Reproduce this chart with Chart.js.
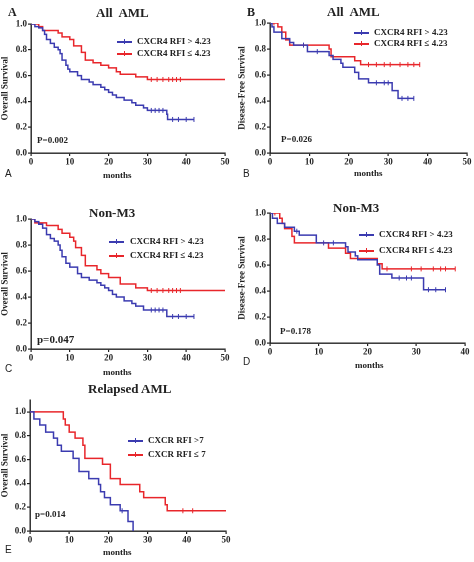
<!DOCTYPE html>
<html><head><meta charset="utf-8">
<script src="https://cdn.jsdelivr.net/npm/chart.js@4/dist/chart.umd.min.js"></script>
<style>
body{margin:0;background:#fff;width:474px;height:562px;position:relative;overflow:hidden;font-family:"Liberation Serif","Times New Roman",serif;}
canvas{position:absolute;}
.t{position:absolute;font-weight:bold;white-space:nowrap;color:#222;}
.lg{position:absolute;height:2px;width:15px;}
.lg:after{content:"";position:absolute;left:7px;top:-2px;width:1px;height:5px;background:inherit;}
.let{position:absolute;font-family:"Liberation Sans",Arial,sans-serif;font-size:10px;color:#222;}
</style></head><body>
<canvas id="cA"></canvas><canvas id="cB"></canvas><canvas id="cC"></canvas><canvas id="cD"></canvas><canvas id="cE"></canvas>
<div class="let" style="left:8px;top:5px;font-weight:bold;font-family:'Liberation Serif',serif;font-size:12px">A</div>
<div class="let" style="left:247px;top:5px;font-weight:bold;font-family:'Liberation Serif',serif;font-size:12px">B</div>
<div class="let" style="left:5px;top:168px">A</div>
<div class="let" style="left:243px;top:168px">B</div>
<div class="let" style="left:5px;top:363px">C</div>
<div class="let" style="left:243px;top:356px">D</div>
<div class="let" style="left:5px;top:544px">E</div>
<div class="t" style="left:96px;top:5px;font-size:13px">All&nbsp; AML</div>
<div class="t" style="left:327px;top:4px;font-size:13px">All&nbsp; AML</div>
<div class="t" style="left:89px;top:205px;font-size:13px">Non-M3</div>
<div class="t" style="left:333px;top:200px;font-size:13px">Non-M3</div>
<div class="t" style="left:88px;top:381px;font-size:13px">Relapsed AML</div>
<div class="t" style="left:103px;top:170px;font-size:9px">months</div>
<div class="t" style="left:354px;top:168px;font-size:9px">months</div>
<div class="t" style="left:103px;top:367px;font-size:9px">months</div>
<div class="t" style="left:355px;top:360px;font-size:9px">months</div>
<div class="t" style="left:103px;top:547px;font-size:9px">months</div>
<div class="t" style="left:37px;top:135px;font-size:9px">P=0.002</div>
<div class="t" style="left:281px;top:134px;font-size:9px">P=0.026</div>
<div class="t" style="left:37px;top:333px;font-size:11px">p=0.047</div>
<div class="t" style="left:280px;top:326px;font-size:9px">P=0.178</div>
<div class="t" style="left:35px;top:509px;font-size:9px">p=0.014</div>
<div class="lg" style="left:117px;top:41px;background:#3b3bb0"></div><div class="t" style="left:137px;top:36px;font-size:9px">CXCR4 RFI &gt; 4.23</div>
<div class="lg" style="left:117px;top:53px;background:#e8262b"></div><div class="t" style="left:137px;top:48px;font-size:9px">CXCR4 RFI ≤ 4.23</div>
<div class="lg" style="left:354px;top:32px;background:#3b3bb0"></div><div class="t" style="left:374px;top:27px;font-size:9px">CXCR4 RFI &gt; 4.23</div>
<div class="lg" style="left:354px;top:43px;background:#e8262b"></div><div class="t" style="left:374px;top:38px;font-size:9px">CXCR4 RFI ≤ 4.23</div>
<div class="lg" style="left:109px;top:241px;background:#3b3bb0"></div><div class="t" style="left:130px;top:236px;font-size:9px">CXCR4 RFI &gt; 4.23</div>
<div class="lg" style="left:109px;top:255px;background:#e8262b"></div><div class="t" style="left:130px;top:250px;font-size:9px">CXCR4 RFI ≤ 4.23</div>
<div class="lg" style="left:359px;top:234px;background:#3b3bb0"></div><div class="t" style="left:379px;top:229px;font-size:9px">CXCR4 RFI &gt; 4.23</div>
<div class="lg" style="left:359px;top:250px;background:#e8262b"></div><div class="t" style="left:379px;top:245px;font-size:9px">CXCR4 RFI ≤ 4.23</div>
<div class="lg" style="left:128px;top:440px;background:#3b3bb0"></div><div class="t" style="left:148px;top:435px;font-size:9px">CXCR RFI &gt;7</div>
<div class="lg" style="left:128px;top:454px;background:#e8262b"></div><div class="t" style="left:148px;top:449px;font-size:9px">CXCR RFI ≤ 7</div>
<script>
const BLUE = "#3b3bb0", RED = "#e8262b";

// A: All AML, overall survival
const aBlueT = [0,1,2,3,3.5,4,5,6,7,7.5,8,9,9.5,10,12,13,15,16,18,19,20,21,22,24,26,27,29,30,35,35.2,42];
const aBlueS = [1,0.98,0.97,0.95,0.92,0.88,0.85,0.82,0.8,0.77,0.72,0.68,0.65,0.63,0.6,0.57,0.55,0.53,0.51,0.49,0.47,0.45,0.43,0.41,0.39,0.37,0.35,0.33,0.30,0.26,0.26];
const aRedT = [0,2,3,7,8,10,11,13,14,16,18,20,22,23,27,30,50];
const aRedS = [1,0.98,0.95,0.93,0.9,0.88,0.83,0.78,0.72,0.7,0.68,0.66,0.63,0.61,0.59,0.57,0.57];
const aBlueCens = [[31,0.33],[32,0.33],[33,0.33],[34,0.33],[36.5,0.26],[38,0.26],[40,0.26],[42,0.26]];
const aRedCens = [[31,0.57],[32.5,0.57],[34,0.57],[35.5,0.57],[36.5,0.57],[37.5,0.57],[38.5,0.57]];

// B: All AML, disease-free survival
const bBlueT = [0,0.5,1,3,5,6,9.5,15,16,18,18.5,21.5,22.5,25,31,32.5,36.5];
const bBlueS = [1,0.97,0.93,0.88,0.85,0.83,0.78,0.75,0.72,0.69,0.66,0.62,0.57,0.54,0.48,0.42,0.42];
const bRedT = [0,2,3,4,5,15,15.5,21.5,23,38];
const bRedS = [1,0.97,0.93,0.87,0.83,0.80,0.74,0.71,0.68,0.68];
const bBlueCens = [[8.5,0.83],[12,0.78],[27,0.54],[29,0.54],[30,0.54],[33.5,0.42],[35,0.42],[36.5,0.42]];
const bRedCens = [[1,1],[25,0.68],[27,0.68],[29,0.68],[30.5,0.68],[33,0.68],[35,0.68],[36.5,0.68],[38,0.68]];

// C: Non-M3, overall survival
const cBlueT = [0,1,2,3,4,5,6,7,7.5,8,9,10,12,13,15,17,18,19,20,21,22,24,26,27,29,35,42];
const cBlueS = [1,0.98,0.96,0.93,0.88,0.85,0.83,0.8,0.76,0.71,0.66,0.63,0.58,0.55,0.53,0.51,0.49,0.47,0.45,0.42,0.4,0.37,0.35,0.33,0.3,0.25,0.25];
const cRedT = [0,1,4,7,8,10,11,11.5,13,14,17,18,20,23,27,30,50];
const cRedS = [1,0.97,0.95,0.92,0.89,0.86,0.83,0.78,0.72,0.64,0.61,0.58,0.55,0.5,0.47,0.45,0.45];
const cBlueCens = [[31,0.3],[32,0.3],[33,0.3],[34,0.3],[36.5,0.25],[38,0.25],[40,0.25],[42,0.25]];
const cRedCens = [[31,0.45],[32.5,0.45],[34,0.45],[35.5,0.45],[36.5,0.45],[37.5,0.45],[38.5,0.45]];

// D: Non-M3, disease-free survival
const dBlueT = [0,0.5,1.5,3,5,6,9.5,15.5,16,17.5,18,22,22.5,25,31.5,36];
const dBlueS = [1,0.96,0.92,0.89,0.86,0.83,0.77,0.74,0.7,0.67,0.64,0.6,0.53,0.5,0.41,0.41];
const dRedT = [0,2,2.5,3,4.5,5,12,15.5,16.5,22,23,38];
const dRedS = [1,0.96,0.92,0.88,0.82,0.77,0.73,0.69,0.65,0.61,0.57,0.57];
const dBlueCens = [[5.5,0.86],[9.5,0.8],[11,0.77],[13,0.77],[26.5,0.5],[28,0.5],[29,0.5],[32.5,0.41],[34,0.41],[36,0.41]];
const dRedCens = [[1,1],[24,0.57],[29,0.57],[31,0.57],[33.5,0.57],[35,0.57],[36,0.57],[38,0.57]];

// E: Relapsed AML, overall survival
const eBlueT = [0,1,2.5,4,6,7,8,11,12.5,15,17.5,18,19,20.5,23,25,26.3];
const eBlueS = [1,0.94,0.89,0.83,0.78,0.72,0.67,0.61,0.5,0.44,0.39,0.33,0.28,0.22,0.17,0.08,0];
const eRedT = [0,8.5,9,10,11.5,13.5,14,18.5,20.5,23,28,29,34.5,35,50];
const eRedS = [1,0.94,0.89,0.83,0.78,0.72,0.61,0.56,0.44,0.39,0.33,0.28,0.22,0.17,0.17];
const eBlueCens = [[23.5,0.17]];
const eRedCens = [[39,0.17],[41.5,0.17]];

const pts = (t, s) => t.map((x, i) => ({ x: x, y: s[i] }));
const cens = (c) => c.map((p) => ({ x: p[0], y: p[1] }));

function panel(id, box, xMax, yMax, yTitle, blue, red, blueC, redC) {
  const cv = document.getElementById(id);
  cv.style.left = box.l + "px"; cv.style.top = box.t + "px";
  cv.style.width = box.w + "px"; cv.style.height = box.h + "px";
  const font = { family: "Liberation Serif", weight: "bold", size: 9 };
  const line = (d, c) => ({ type: "line", data: d, borderColor: c, borderWidth: 1.5, stepped: "before", pointRadius: 0, fill: false });
  const tick = (d, c) => ({ type: "scatter", data: d, borderColor: c, pointStyle: "line", rotation: 90, pointRadius: 2.5, borderWidth: 1 });
  const grid = { display: true, drawOnChartArea: false, drawTicks: true, tickLength: 3, color: "#222", lineWidth: 1.2 };
  new Chart(cv, {
    data: { datasets: [line(blue, BLUE), line(red, RED), tick(blueC, BLUE), tick(redC, RED)] },
    options: {
      responsive: false, animation: false, devicePixelRatio: 2,
      layout: { padding: { top: box.pt, right: box.pr, left: 0, bottom: 0 } },
      plugins: { legend: { display: false }, tooltip: { enabled: false } },
      scales: {
        x: { type: "linear", min: 0, max: xMax,
          ticks: { stepSize: 10, font: font, color: "#222", padding: 1 },
          grid: grid,
          border: { color: "#222", width: 1.4 },
          afterFit: (s) => { s.height = box.xh; } },
        y: { min: 0, max: yMax,
          ticks: { stepSize: 0.2, font: font, color: "#222", padding: 1, callback: (v) => v.toFixed(1) },
          afterBuildTicks: (s) => { s.ticks = s.ticks.filter((t) => t.value <= 1.0001); },
          grid: grid,
          border: { color: "#222", width: 1.4 },
          title: { display: true, text: yTitle, font: font, color: "#222", padding: 0 },
          afterFit: (s) => { s.width = box.yw; } }
      }
    }
  });
}

panel("cA", { l: 0, t: 0, w: 237, h: 190, pt: 24, pr: 12, xh: 37, yw: 31 }, 50, 1, "Overall Survival",
  pts(aBlueT, aBlueS), pts(aRedT, aRedS), cens(aBlueCens), cens(aRedCens));
panel("cB", { l: 237, t: 0, w: 237, h: 190, pt: 23, pr: 7, xh: 37, yw: 33 }, 50, 1, "Disease-Free Survival",
  pts(bBlueT, bBlueS), pts(bRedT, bRedS), cens(bBlueCens), cens(bRedCens));
panel("cC", { l: 0, t: 190, w: 237, h: 180, pt: 29, pr: 12, xh: 21, yw: 31 }, 50, 1, "Overall Survival",
  pts(cBlueT, cBlueS), pts(cRedT, cRedS), cens(cBlueCens), cens(cRedCens));
panel("cD", { l: 237, t: 190, w: 237, h: 180, pt: 23, pr: 9, xh: 27, yw: 33 }, 40, 1, "Disease-Free Survival",
  pts(dBlueT, dBlueS), pts(dRedT, dRedS), cens(dBlueCens), cens(dRedCens));
panel("cE", { l: 0, t: 370, w: 260, h: 192, pt: 30, pr: 34, xh: 31, yw: 30 }, 50, 1.1, "Overall Survival",
  pts(eBlueT, eBlueS), pts(eRedT, eRedS), cens(eBlueCens), cens(eRedCens));
</script>
</body></html>
